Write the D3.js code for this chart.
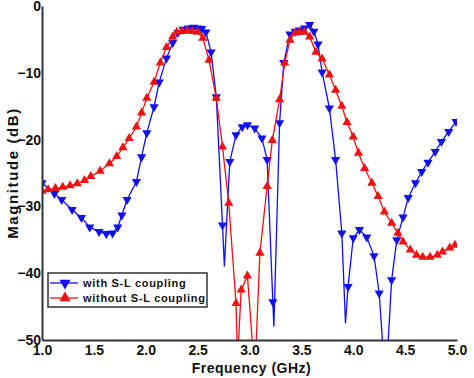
<!DOCTYPE html>
<html>
<head>
<meta charset="utf-8">
<script src="https://cdn.jsdelivr.net/npm/d3@7"></script>
<style>
  body { margin: 0; background: #fff; }
  text { font-family: Arial, "Liberation Sans", sans-serif; font-weight: bold; }
</style>
</head>
<body>
<div id="plot"></div>
<script>
// chart data (frequency in GHz, magnitude in dB)
var xTicks = [1.0, 1.5, 2.0, 2.5, 3.0, 3.5, 4.0, 4.5, 5.0];
var yTicks = [0, -10, -20, -30, -40, -50];

// with S-L coupling (markers)
var withFreq = [1.00, 1.12, 1.19, 1.29, 1.38, 1.46, 1.55, 1.62, 1.68, 1.73, 1.77, 1.82, 1.91, 1.96,
  2.01, 2.08, 2.13, 2.20, 2.26, 2.31, 2.36, 2.41, 2.46, 2.50, 2.54, 2.58, 2.63, 2.68, 2.74,
  2.81, 2.87, 2.93, 2.98, 3.05, 3.12, 3.17, 3.225, 3.29, 3.33, 3.39, 3.44, 3.48, 3.53, 3.58,
  3.62, 3.66, 3.70, 3.77, 3.83, 3.89, 3.95, 4.00, 4.06, 4.13, 4.20, 4.25, 4.37, 4.42, 4.48,
  4.53, 4.60, 4.66, 4.72, 4.79, 4.85, 4.92, 4.99];
var withMag = [-26.5, -28.1, -29.0, -30.5, -31.7, -33.1, -33.8, -34.1, -34.0, -33.1, -31.3, -29.0, -26.3, -22.6,
  -19.0, -15.1, -11.4, -7.8, -5.5, -4.0, -3.5, -3.3, -3.2, -3.3, -3.4, -3.9, -6.9, -13.6, -32.8,
  -23.3, -19.3, -18.1, -17.8, -18.3, -19.8, -23.0, -44.3, -17.5, -8.5, -4.2, -3.8, -3.6, -3.3, -2.8,
  -3.8, -5.7, -9.9, -15.3, -23.0, -34.0, -42.0, -34.7, -33.5, -34.6, -37.4, -43.0, -41.0, -35.0, -31.6,
  -28.7, -26.5, -24.8, -23.4, -21.8, -20.3, -18.8, -17.3];
// sharp nulls between markers (line only)
var withNullFreq = [2.758, 3.235, 3.925, 4.29, 4.33];
var withNullMag = [-39.0, -48.0, -47.5, -52.0, -52.0];

// without S-L coupling (markers)
var withoutFreq = [1.00, 1.06, 1.13, 1.20, 1.27, 1.34, 1.41, 1.47, 1.56, 1.65, 1.72, 1.78, 1.84, 1.91,
  1.96, 2.01, 2.08, 2.14, 2.20, 2.26, 2.30, 2.35, 2.40, 2.45, 2.50, 2.55, 2.61, 2.68, 2.74,
  2.80, 2.87, 2.92, 2.98, 3.10, 3.17, 3.22, 3.29, 3.34, 3.39, 3.44, 3.48, 3.53, 3.58, 3.64,
  3.70, 3.77, 3.83, 3.89, 3.94, 4.00, 4.05, 4.11, 4.18, 4.24, 4.30, 4.37, 4.43, 4.48, 4.55,
  4.61, 4.67, 4.74, 4.81, 4.86, 4.93, 4.98];
var withoutMag = [-27.7, -27.5, -27.3, -27.1, -26.9, -26.6, -26.1, -25.5, -24.7, -23.6, -22.5, -21.2, -19.8, -18.1,
  -16.0, -13.8, -11.4, -8.5, -6.2, -4.6, -3.9, -3.8, -3.7, -3.8, -3.9, -4.8, -8.1, -13.8, -21.1,
  -29.5, -44.5, -42.5, -40.4, -37.0, -27.0, -20.1, -14.0, -8.5, -5.1, -4.0, -3.9, -3.9, -4.6, -6.9,
  -7.9, -10.3, -12.6, -15.0, -17.4, -19.6, -22.0, -24.3, -26.5, -28.5, -30.8, -32.5, -34.0, -35.3, -36.5,
  -37.3, -37.6, -37.6, -37.3, -36.8, -36.2, -35.8];
var withoutNullFreq = [2.885, 3.035, 3.06];
var withoutNullMag = [-53.0, -52.0, -52.0];

// SVG area
var svgWidth = 474;
var svgHeight = 378;
var plotLeft = 42, plotRight = 457, plotTop = 6, plotBottom = 340;

var svg = d3.select("#plot")
  .append("svg")
  .attr("width", svgWidth)
  .attr("height", svgHeight);

svg.append("rect")
  .attr("width", svgWidth)
  .attr("height", svgHeight)
  .attr("fill", "#fff");

var xScale = d3.scaleLinear().domain([1, 5]).range([plotLeft, plotRight]);
var yScale = d3.scaleLinear().domain([-50, 0]).range([plotBottom, plotTop]);

svg.append("clipPath")
  .attr("id", "clip")
  .append("rect")
  .attr("x", plotLeft)
  .attr("y", plotTop)
  .attr("width", plotRight - plotLeft)
  .attr("height", plotBottom - plotTop);

// merge marker points and null points into one sorted list for the line
function zipPoints(fs, ms) {
  return fs.map(function(f, i) { return { f: f, m: ms[i] }; });
}
function linePoints(fs, ms, nfs, nms) {
  return zipPoints(fs, ms).concat(zipPoints(nfs, nms))
    .sort(function(a, b) { return a.f - b.f; });
}

var series = [
  { name: "with S-L coupling", color: "#1010f0", down: true,
    marks: zipPoints(withFreq, withMag),
    line: linePoints(withFreq, withMag, withNullFreq, withNullMag) },
  { name: "without S-L coupling", color: "#f01010", down: false,
    marks: zipPoints(withoutFreq, withoutMag),
    line: linePoints(withoutFreq, withoutMag, withoutNullFreq, withoutNullMag) }
];

var drawLine = d3.line()
  .x(function(d) { return xScale(d.f); })
  .y(function(d) { return yScale(d.m); });

var tri = d3.symbol().type(d3.symbolTriangle).size(37);

var plotGroup = svg.append("g").attr("clip-path", "url(#clip)");

series.forEach(function(s) {
  plotGroup.append("path")
    .attr("d", drawLine(s.line))
    .attr("fill", "none")
    .attr("stroke", s.color)
    .attr("stroke-width", 1.3);

  plotGroup.selectAll(null)
    .data(s.marks.filter(function(d) { return d.m >= -50; }))
    .enter()
    .append("path")
    .attr("d", tri)
    .attr("transform", function(d) {
      return "translate(" + xScale(d.f) + "," + yScale(d.m) + ")" + (s.down ? " rotate(180)" : "");
    })
    .attr("fill", s.color);
});

// axes (lines only, no tick marks)
var bottomAxis = d3.axisBottom(xScale).tickValues(xTicks).tickSize(0).tickPadding(5)
  .tickFormat(d3.format(".1f"));
var leftAxis = d3.axisLeft(yScale).tickValues(yTicks).tickSize(0).tickPadding(1)
  .tickFormat(d3.format("d"));

var gx = svg.append("g")
  .attr("transform", "translate(0," + plotBottom + ")")
  .call(bottomAxis);
gx.select(".domain").attr("stroke", "#333").attr("stroke-width", 2);
gx.selectAll("text").style("font-size", "14px").attr("fill", "#111");

var gy = svg.append("g")
  .attr("transform", "translate(" + plotLeft + ",0)")
  .call(leftAxis);
gy.select(".domain").attr("stroke", "#333").attr("stroke-width", 2);
gy.selectAll("text").style("font-size", "14px").attr("fill", "#111");

// axis titles
svg.append("text")
  .attr("x", (plotLeft + plotRight) / 2 + 2)
  .attr("y", 373)
  .attr("text-anchor", "middle")
  .style("font-size", "14px")
  .style("letter-spacing", "0.5px")
  .attr("fill", "#111")
  .text("Frequency (GHz)");

svg.append("text")
  .attr("transform", "translate(18," + ((plotTop + plotBottom) / 2) + ") rotate(-90)")
  .attr("text-anchor", "middle")
  .style("font-size", "15px")
  .style("letter-spacing", "1.6px")
  .attr("fill", "#111")
  .text("Magnitude (dB)");

// legend
var legend = svg.append("g").attr("transform", "translate(48,273)");
legend.append("rect")
  .attr("width", 159)
  .attr("height", 34)
  .attr("fill", "#fff")
  .attr("stroke", "#333")
  .attr("stroke-width", 1.5);

series.forEach(function(s, i) {
  var ly = 10 + i * 15;
  legend.append("line")
    .attr("x1", 2).attr("x2", 30)
    .attr("y1", ly).attr("y2", ly)
    .attr("stroke", s.color)
    .attr("stroke-width", 1.3);
  legend.append("path")
    .attr("d", d3.symbol().type(d3.symbolTriangle).size(55))
    .attr("transform", "translate(17," + ly + ")" + (s.down ? " rotate(180)" : ""))
    .attr("fill", s.color);
  legend.append("text")
    .attr("x", 35)
    .attr("y", ly + 4)
    .style("font-size", "11px")
    .style("letter-spacing", "0.7px")
    .attr("fill", "#111")
    .text(s.name);
});
</script>
</body>
</html>
